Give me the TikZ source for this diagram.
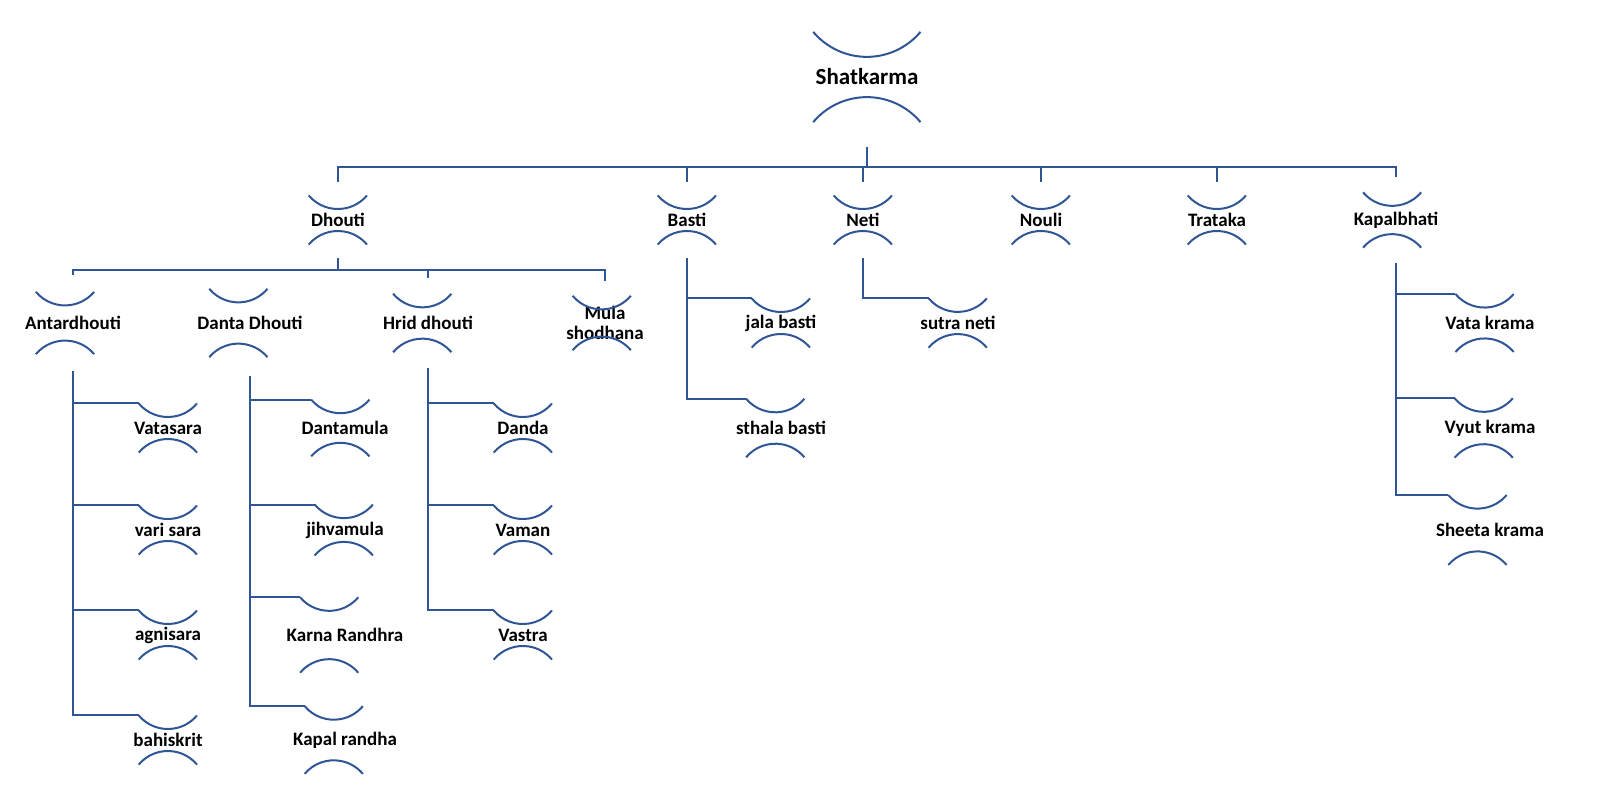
\documentclass[tikz,border=0pt]{standalone}
\usepackage{fontspec}
\setmainfont{Carlito}
\definecolor{ln}{HTML}{2F5597}
\begin{document}
\begin{tikzpicture}[x=1pt,y=-1pt,
  nd/.style={circle,minimum size=76pt,inner sep=0pt,align=center,font=\bfseries\fontsize{19}{20}\selectfont},
  cn/.style={ln,line width=2pt}]
\useasboundingbox (0,0) rectangle (1600,800);
\node[nd,minimum size=140pt,font=\bfseries\fontsize{23}{25}\selectfont] (S) at (867,77) {Shatkarma};
\foreach \n/\x/\t in {dh/338/Dhouti,ba/687/Basti,ne/863/Neti,no/1041/Nouli,tr/1217/Trataka,ka/1396/Kapalbhati}
  \node[nd] (\n) at (\x,220) {\t};
\foreach \n/\x/\t in {an/73/Antardhouti,da/250/Danta Dhouti,hr/428/Hrid dhouti,mu/605/{Mula\\shodhana}}
  \node[nd] (\n) at (\x,323) {\t};
\foreach \n/\x/\y/\t in {a1/168/428/Vatasara,a2/168/530/vari sara,a3/168/635/agnisara,a4/168/740/bahiskrit,
  d1/345/428/Dantamula,d2/345/530/jihvamula,d3/345/635/Karna Randhra,d4/345/740/Kapal randha,
  h1/523/428/Danda,h2/523/530/Vaman,h3/523/635/Vastra,
  b1/781/323/jala basti,b2/781/428/sthala basti,n1/958/323/sutra neti,
  k1/1490/323/Vata krama,k2/1490/428/Vyut krama,k3/1490/530/Sheeta krama}
  \node[nd] (\n) at (\x,\y) {\t};
% arcs
\foreach \n in {dh,ba,ne,no,tr,ka,an,da,hr,mu,a1,a2,a3,a4,d1,d2,d3,d4,h1,h2,h3,b1,b2,n1,k1,k2,k3}{
  \draw[cn] (\n.140) arc[start angle=140,end angle=40,radius=38];
  \draw[cn] (\n.-140) arc[start angle=-140,end angle=-40,radius=38];}
\draw[cn] (S.140) arc[start angle=140,end angle=40,radius=70];
\draw[cn] (S.-140) arc[start angle=-140,end angle=-40,radius=70];
% connectors
\coordinate (bus1) at (867,167);
\draw[cn] (S.south) -- (bus1);
\foreach \n in {dh,ba,ne,no,tr,ka} \draw[cn] (bus1) -| (\n.north);
\coordinate (bus2) at (338,270);
\draw[cn] (dh.south) -- (bus2);
\foreach \n in {an,da,hr,mu} \draw[cn] (bus2) -| (\n.north);
\foreach \p/\c in {an/a1,an/a2,an/a3,an/a4,da/d1,da/d2,da/d3,da/d4,hr/h1,hr/h2,hr/h3,ba/b1,ba/b2,ne/n1,ka/k1,ka/k2,ka/k3}
  \draw[cn] (\p.south) |- (\c.140);
\end{tikzpicture}
\end{document}
